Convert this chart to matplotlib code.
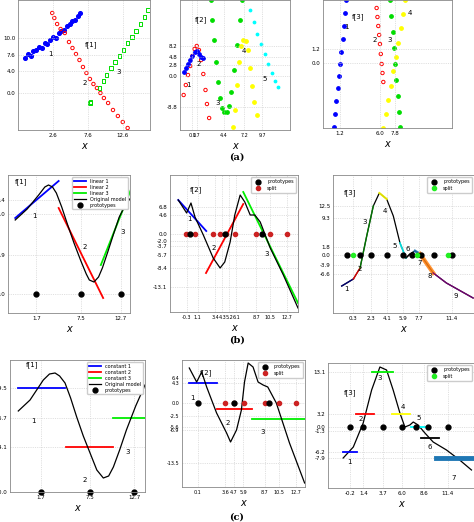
import matplotlib
matplotlib.use("Agg")
import matplotlib.pyplot as plt

W, H = 474, 522
fig = plt.figure(figsize=(W/100, H/100), dpi=100)
FS = 4

def ax_at(l, t, r, b):
    ax = fig.add_axes([l/W, 1-b/H, (r-l)/W, (b-t)/H])
    for s in ax.spines.values():
        s.set_color('#888888'); s.set_linewidth(0.6)
    ax.tick_params(labelsize=FS, length=0, pad=2)
    ax.grid(True, color='#c8c8c8', lw=0.4, ls=(0, (2, 2)))
    ax.set_xlabel('x', fontsize=7, style='italic', labelpad=2)
    return ax

def ticks(ax, xt, yt, ylab):
    ax.set_xticks(xt); ax.set_xticklabels([str(v) for v in xt])
    ax.set_yticks(yt); ax.set_yticklabels(ylab)

def nums(ax, xs, ys, labs, size=6):
    for x, y, s in zip(xs, ys, labs):
        ax.text(x, y, s, fontsize=size, ha='center', va='center')

# ---------------- Row (a): scatter clusters ----------------
a1_blue_x = [-1.4, -1.0, -0.6, -0.2, 0.2, 0.6, 1.0, 1.4, 1.8, 2.2, 2.6, 3.0, 3.4, 3.8, 4.2, 4.6, 5.0, 5.4, 5.8, 6.2, 6.5]
a1_blue_y = [72, 76, 74, 79, 80, 83, 82, 87, 86, 90, 93, 92, 97, 99, 100, 104, 106, 109, 110, 114, 117]
a1_red_x = [2.5, 2.8, 3.2, 3.7, 4.3, 4.9, 5.4, 5.9, 6.4, 6.9, 7.4, 7.9, 8.4, 8.9, 9.4, 9.9, 10.5, 11.2, 11.9, 12.6, 13.3]
a1_red_y = [117, 112, 106, 101, 97, 88, 82, 76, 70, 63, 57, 51, 46, 42, 37, 32, 27, 20, 14, 8, 2]
a1_green_x = [7.9, 8.0, 9.3, 9.8, 10.3, 10.9, 11.5, 12.1, 12.7, 13.3, 13.9, 14.5, 15.1, 15.7, 16.2]
a1_green_y = [27, 28, 42, 49, 55, 62, 68, 74, 80, 87, 93, 99, 106, 113, 120]

a2_red_x = [-1.1, -0.8, -0.5, -0.2, 0.1, 0.4, 0.7, 1.0, 1.3, 1.6, 1.9, 2.1, 2.4]
a2_red_y = [35, 45, 55, 64, 74, 81, 84, 80, 70, 56, 40, 26, 12]
a2_blue_x = [-1.1, -0.8, -0.5, -0.2, 0.1, 0.4, 0.7, 1.0, 1.3, 1.6]
a2_blue_y = [58, 62, 66, 70, 74, 78, 79, 76, 73, 72]
a2_green_x = [2.6, 2.8, 3.0, 3.3, 3.6, 3.9, 4.2, 4.5, 4.8, 5.1, 5.4, 5.8, 6.2, 6.6, 6.9]
a2_green_y = [130, 110, 90, 68, 48, 32, 22, 18, 18, 24, 38, 60, 85, 110, 130]
a2_yellow_x = [5.7, 5.9, 6.2, 6.5, 6.8, 7.1, 7.4, 7.7, 8.0, 8.3, 8.6, 9.0]
a2_yellow_y = [3, 20, 45, 68, 84, 90, 89, 80, 62, 44, 28, 15]
a2_cyan_x = [8.0, 8.5, 9.0, 9.5, 10.0, 10.5, 11.0, 11.5, 11.9]
a2_cyan_y = [120, 108, 96, 86, 76, 66, 57, 49, 43]

a3_blue_x = [0.5, 0.65, 0.8, 0.95, 1.1, 1.25, 1.4, 1.55, 1.7, 1.85, 1.95]
a3_blue_y = [1, 14, 27, 40, 52, 64, 76, 89, 102, 115, 128]
a3_red_x = [5.6, 5.7, 5.8, 5.9, 6.0, 6.1, 6.2, 6.3, 6.4]
a3_red_y = [120, 111, 102, 93, 84, 74, 64, 55, 46]
a3_yellow_x = [6.4, 6.7, 7.0, 7.3, 7.6, 7.9, 8.2, 8.5, 8.8, 9.0]
a3_yellow_y = [0, 14, 28, 42, 57, 71, 85, 100, 114, 128]
a3_green_x = [7.2, 7.35, 7.5, 7.65, 7.8, 7.95, 8.1, 8.25, 8.4]
a3_green_y = [128, 112, 96, 80, 64, 48, 32, 16, 1]

ax = ax_at(18, 0, 150, 130)
ax.set_xlim(-2.4, 16.5); ax.set_ylim(0, 130)
ticks(ax, [2.6, 7.6, 12.6], [37, 59, 75, 92], ['0.0', '4.0', '7.6', '10.0'])
ax.scatter(a1_blue_x, a1_blue_y, s=7, c='blue', marker='o')
ax.scatter(a1_red_x, a1_red_y, s=6, facecolors='none', edgecolors='red', lw=0.7)
ax.scatter(a1_green_x, a1_green_y, s=6, facecolors='none', edgecolors='#00dd00', marker='s', lw=0.7)
nums(ax, [2.2, 7.2, 12.0, 8.0], [76, 47, 58, 85], ['1', '2', '3', 'f[1]'], 5)

ax = ax_at(180, 0, 290, 130)
ax.set_xlim(-1.6, 13.5); ax.set_ylim(0, 130)
ax.set_xticks([0.1, 0.7, 4.4, 7.2, 9.7]); ax.set_xticklabels(['0.1', '0.7', '4.4', '7.2', '9.7'], fontsize=3.5)
ax.set_yticks([23, 54, 65, 73, 84]); ax.set_yticklabels(['-8.8', '0.0', '2.8', '4.8', '8.2'])
ax.scatter(a2_red_x, a2_red_y, s=6, facecolors='none', edgecolors='red', lw=0.7)
ax.scatter(a2_blue_x, a2_blue_y, s=6, c='blue')
ax.scatter(a2_green_x, a2_green_y, s=6, c='#00dd00')
ax.scatter(a2_yellow_x, a2_yellow_y, s=6, c='yellow')
ax.scatter(a2_cyan_x, a2_cyan_y, s=3, c='cyan')
nums(ax, [-0.4, 0.9, 3.56, 7.2, 10.0, 1.24], [45, 66, 27, 79, 51, 110], ['1', '2', '3', '4', '5', 'f[2]'], 5)

ax = ax_at(323, 0, 452, 128)
ax.set_xlim(-0.8, 14.6); ax.set_ylim(0, 128)
ticks(ax, [1.2, 6.0, 7.8], [65, 79], ['0.0', '1.2'])
ax.scatter(a3_blue_x, a3_blue_y, s=6, c='blue')
ax.scatter(a3_red_x, a3_red_y, s=6, facecolors='none', edgecolors='red', lw=0.7)
ax.scatter(a3_yellow_x, a3_yellow_y, s=6, c='yellow')
ax.scatter(a3_green_x, a3_green_y, s=6, c='#00dd00')
nums(ax, [2.0, 5.4, 7.1, 9.6, 3.4], [101, 88, 88, 115, 111], ['1', '2', '3', '4', 'f[3]'], 5)

# ---------------- Row (b): linear local models ----------------
b1_curve_x = [-1.06, 0.5, 2.0, 2.8, 3.28, 3.8, 4.3, 5.0, 5.78, 6.6, 7.5, 8.2, 8.6, 9.2, 9.8, 10.3, 11.0, 11.8, 12.5, 13.3, 14.07]
b1_curve_y = [93, 104, 118, 126, 128, 126, 120, 106, 88, 70, 52, 39, 33, 31, 36, 45, 61, 80, 96, 108, 116]
b1_lin = [([-1.06, 4.6], [95, 132], 'blue', 'linear 1'),
          ([4.6, 10.4], [105, 15], 'red', 'linear 2'),
          ([10.1, 14.1], [48, 125], '#00ee00', 'linear 3')]
b1_proto_x = [1.7, 7.5, 12.7]

ax = ax_at(8, 175, 130, 313)
ax.set_xlim(-2.0, 13.9); ax.set_ylim(0, 138)
ticks(ax, [1.7, 7.5, 12.7], [19, 58, 99, 113], ['0.0', '8.9', '8.0', '9.4'])
for xs, ys, c, lab in b1_lin:
    ax.plot(xs, ys, color=c, lw=1.3, label=lab)
ax.plot(b1_curve_x, b1_curve_y, color='black', lw=0.9, label='Original model')
ax.plot(b1_proto_x, [19]*3, 'o', color='black', ms=3.5, label='prototypes')
ax.legend(fontsize=3.5, loc='upper right', handlelength=2.5, framealpha=1, borderpad=0.3, labelspacing=0.2)
nums(ax, [1.4, 8.0, 13.0, -0.3], [97, 66, 81, 131], ['1', '2', '3', 'f[1]'], 5)

b2_curve_x = [-1.43, -0.34, 0.22, 0.74, 1.82, 3.1, 4.0, 4.6, 5.3, 5.9, 6.6, 7.2, 7.9, 8.5, 9.2, 10.5, 12.2, 14.1]
b2_curve_y = [112, 99, 109, 95, 77, 54, 44, 50, 70, 97, 117, 110, 97, 97, 90, 64, 37, 4]
b2_lin = [([-1.43, 2.2], [112, 81], 'blue'), ([2.17, 7.0], [39, 108], 'red'), ([7.0, 14.1], [120, 9], '#00ee00')]
b2_proto_x = [0.07, 4.6, 9.4]
b2_split_x = [-0.45, 0.74, 3.1, 4.0, 4.8, 5.9, 8.7, 10.5, 12.7]

ax = ax_at(170, 175, 298, 312)
ax.set_xlim(-2.5, 14.1); ax.set_ylim(0, 137)
ax.set_xticks([-0.3, 1.1, 3.4, 4.3, 5.2, 6.1, 8.7, 10.5, 12.7])
ax.set_xticklabels(['-0.3', '1.1', '3.4', '4.3', '5.2', '6.1', '8.7', '10.5', '12.7'], fontsize=3.5)
ax.set_yticks([25, 44, 57, 66, 71, 78, 97, 105])
ax.set_yticklabels(['-13.1', '-8.4', '-5.7', '-3.7', '-2.0', '0.0', '4.6', '6.8'])
for xs, ys, c in b2_lin:
    ax.plot(xs, ys, color=c, lw=1.3)
ax.plot(b2_curve_x, b2_curve_y, color='black', lw=0.9)
ax.plot(b2_split_x, [78]*len(b2_split_x), 'o', color='#cc2222', ms=3)
ax.plot(b2_proto_x, [78]*3, 'o', color='black', ms=3.5, label='prototypes')
ax.plot([], [], 'o', color='#cc2222', ms=3, label='split')
ax.legend(fontsize=3.5, loc='upper right', framealpha=1, borderpad=0.4, labelspacing=0.3)
nums(ax, [0.0, 3.2, 10.1, 0.9], [93, 64, 58, 122], ['1', '2', '3', 'f[2]'], 5)

b3_curve_x = [-0.97, 0.34, 1.09, 1.84, 2.58, 3.26, 4.08, 4.83, 5.58, 6.25, 6.7, 7.27, 7.83, 9.32, 10.8, 13.8]
b3_curve_y = [27, 34, 45, 77, 107, 120, 114, 97, 70, 55, 59, 62, 59, 40, 30, 15]
b3_seg_colors = ['#000080', 'red', '#008800', 'yellow', 'cyan', 'black', '#1f77b4', '#ff7f0e', 'purple']
b3_seg_bounds = [(0, 2), (1, 3), (2, 5), (5, 7), (8, 10), (9, 12), (11, 13), (12, 14), (13, 16)]
b3_seg_lw = [1.0, 1.0, 1.0, 1.5, 1.2, 1.0, 2.0, 3.0, 1.0]
b3_proto_x = [-0.34, 1.09, 2.3, 4.08, 5.88, 6.9, 7.9, 9.4, 11.4]
b3_split_x = [0.34, 7.5, 11.0]

ax = ax_at(333, 175, 474, 313)
ax.set_xlim(-1.95, 13.9); ax.set_ylim(0, 138)
ticks(ax, [0.3, 2.3, 4.1, 5.9, 7.7, 11.4], [39, 48, 58, 66, 95, 107], ['-6.6', '-3.9', '0.0', '1.8', '9.3', '12.5'])
ax.plot(b3_curve_x, b3_curve_y, color='black', lw=0.9)
for (i0, i1), c, lw in zip(b3_seg_bounds, b3_seg_colors, b3_seg_lw):
    ax.plot(b3_curve_x[i0:i1], b3_curve_y[i0:i1], color=c, lw=lw, alpha=0.85)
ax.plot(b3_proto_x, [58]*len(b3_proto_x), 'o', color='black', ms=3.5, label='prototypes')
ax.plot(b3_split_x, [58]*3, 'o', color='#22ee22', ms=3, label='split')
ax.legend(fontsize=3.5, loc='upper right', framealpha=1, borderpad=0.4, labelspacing=0.3)
nums(ax, [-0.48, 1.09, 1.66, 3.9, 5.0, 6.5, 7.77, 8.96, 11.8, -0.04], [24, 44, 91, 102, 67, 64, 50, 37, 17, 120],
     ['1', '2', '3', '4', '5', '6', '7', '8', '9', 'f[3]'], 5)

# ---------------- Row (c): constant local models ----------------
c1_curve_x = [-0.99, 0.4, 1.97, 2.7, 3.36, 3.9, 4.54, 5.2, 5.92, 6.7, 7.5, 8.3, 9.07, 9.7, 10.26, 11.0, 11.8, 12.9, 14.0]
c1_curve_y = [81, 92, 112, 118, 119, 116, 109, 94, 75, 56, 39, 22, 14, 16, 25, 42, 62, 86, 107]
c1_const = [([-0.99, 4.54], 104, 'blue', 'constant 1'), ([4.66, 10.18], 45, 'red', 'constant 2'),
            ([10.18, 14.0], 74, '#00ee00', 'constant 3')]

ax = ax_at(10, 360, 145, 492)
ax.set_xlim(-1.97, 14.0); ax.set_ylim(0, 132)
ticks(ax, [1.7, 7.5, 12.7], [0, 45, 74, 104], ['-0.0', '-4.1', '-6.7', '-9.5'])
for xs, y, c, lab in c1_const:
    ax.plot(xs, [y, y], color=c, lw=1.3, label=lab)
ax.plot(c1_curve_x, c1_curve_y, color='black', lw=0.9, label='Original model')
ax.plot([1.7, 7.5, 12.7], [0]*3, 'o', color='black', ms=3.5, label='prototypes', clip_on=False)
ax.legend(fontsize=3.5, loc='upper right', handlelength=2.5, framealpha=1, borderpad=0.3, labelspacing=0.2)
nums(ax, [0.8, 6.9, 11.9, 0.6], [71, 12, 40, 127], ['1', '2', '3', 'f[1]'], 5)

c2_curve_x = [-1.02, -0.07, 0.58, 1.22, 2.5, 3.79, 4.3, 5.07, 5.7, 6.1, 6.57, 7.2, 7.85, 8.5, 9.1, 10.2, 11.9, 13.85]
c2_curve_y = [119, 105, 115, 100, 74, 54, 45, 57, 77, 105, 124, 120, 105, 102, 100, 84, 44, 4]
c2_const = [([-1.02, 2.5], 104, 'blue'), ([2.5, 7.13], 78, 'red'), ([7.13, 13.85], 68, '#00ee00')]
c2_proto_x = [0.16, 4.7, 9.3]
c2_split_x = [3.6, 4.7, 6.0, 8.7, 10.5, 12.7]

ax = ax_at(182, 360, 305, 487)
ax.set_xlim(-1.96, 13.9); ax.set_ylim(0, 127)
ax.set_xticks([0.1, 3.6, 4.7, 5.9, 8.7, 10.5, 12.7])
ax.set_xticklabels(['0.1', '3.6', '4.7', '5.9', '8.7', '10.5', '12.7'], fontsize=3.5)
ax.set_yticks([24, 57, 60, 71, 84, 104, 109])
ax.set_yticklabels(['-13.5', '-6.9', '-5.6', '-2.5', '0.0', '4.3', '6.4'], fontsize=3.5)
for xs, y, c in c2_const:
    ax.plot(xs, [y, y], color=c, lw=1.3)
ax.plot(c2_curve_x, c2_curve_y, color='black', lw=0.9)
ax.plot(c2_split_x, [84]*len(c2_split_x), 'o', color='#cc2222', ms=3)
ax.plot(c2_proto_x, [84]*3, 'o', color='black', ms=3.5, label='prototypes')
ax.plot([], [], 'o', color='#cc2222', ms=3, label='split')
ax.legend(fontsize=3.5, loc='upper right', framealpha=1, borderpad=0.4, labelspacing=0.3)
nums(ax, [-0.6, 3.9, 8.5, 1.2], [89, 64, 55, 114], ['1', '2', '3', 'f[2]'], 5)

c3_curve_x = [-1.0, 0.2, 1.37, 2.37, 3.35, 4.14, 4.92, 5.72, 6.31, 6.9, 7.3, 7.88, 8.68, 9.66, 11.24, 12.8, 14.2]
c3_curve_y = [30, 41, 65, 98, 121, 118, 98, 75, 61, 63, 66, 63, 55, 46, 38, 28, 18]
c3_const = [([-1.0, 0.65], 36, 'blue', 1.3), ([0.57, 2.6], 74, 'red', 1.3), ([2.45, 4.92], 116, '#00ee00', 1.3),
            ([4.84, 6.95], 74, 'yellow', 1.3), ([7.07, 8.84], 61, 'cyan', 1.3), ([8.25, 10.34], 50, 'black', 1.3),
            ([10.0, 14.5], 30, '#1f77b4', 3.5)]
c3_proto_x = [-0.2, 1.4, 3.7, 6.0, 7.64, 9.0, 11.4]

ax = ax_at(328, 363, 474, 488)
ax.set_xlim(-2.8, 14.5); ax.set_ylim(0, 125)
ticks(ax, [-0.2, 1.4, 3.7, 6.0, 8.6, 11.4], [30, 36, 57, 61, 74, 116], ['-7.9', '-6.2', '-1.3', '0.0', '3.2', '13.1'])
ax.plot(c3_curve_x, c3_curve_y, color='black', lw=0.9)
for xs, y, c, lw in c3_const:
    ax.plot(xs, [y, y], color=c, lw=lw)
ax.plot(c3_proto_x, [61]*len(c3_proto_x), 'o', color='black', ms=3.5, label='prototypes')
ax.plot([], [], 'o', color='#22ee22', ms=3, label='split')
ax.legend(fontsize=3.5, loc='upper right', framealpha=1, borderpad=0.4, labelspacing=0.3)
nums(ax, [-0.2, 1.05, 3.35, 6.1, 8.0, 9.3, 12.1, -0.2], [26, 69, 110, 81, 70, 41, 10, 95],
     ['1', '2', '3', '4', '5', '6', '7', 'f[3]'], 5)

for lab, y in [('(a)', 157), ('(b)', 340), ('(c)', 517)]:
    fig.text(237/W, 1-y/H, lab, fontsize=7, fontweight='bold', family='DejaVu Serif', ha='center', va='center')

fig.savefig('out.png', dpi=100)
